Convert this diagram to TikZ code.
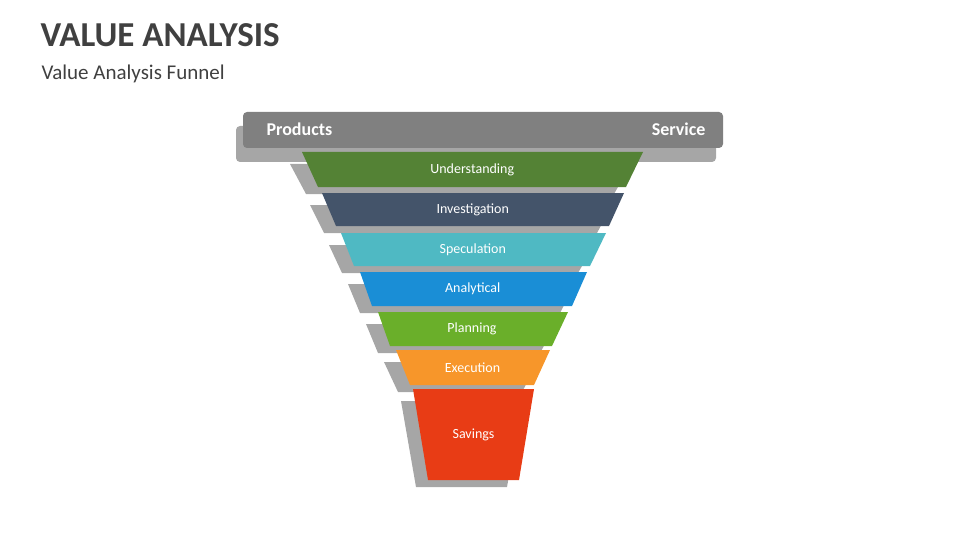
\documentclass[tikz,border=0pt]{standalone}
\usepackage{fontspec}
\setmainfont{Carlito}
\usetikzlibrary{calc}
\definecolor{titlegray}{HTML}{404040}
\definecolor{shadowgray}{HTML}{A6A6A6}
\definecolor{headgray}{HTML}{808080}
\begin{document}
\begin{tikzpicture}[x=1pt,y=-1pt]
    \tikzset{label/.style = {text=white,font=\fontsize{14}{14}\selectfont}}
    \tikzset{shadow/.style = {fill=shadowgray}}
    \useasboundingbox (0,0) rectangle (960,540);
    % title
    \node[anchor=west,text=titlegray,font=\bfseries\fontsize{35}{35}\selectfont] (title) at (37,35) {VALUE ANALYSIS};
    \node[anchor=west,text=titlegray,font=\fontsize{21}{21}\selectfont] (subtitle) at (38,74) {Value Analysis Funnel};
    % header bar
    \fill[shadow,rounded corners=4] (236,126) rectangle (716,162);
    \fill[headgray,rounded corners=4] (243,112) rectangle (723,148);
    \node[anchor=west,text=white,font=\bfseries\fontsize{18}{18}\selectfont] (prod) at (263,129) {Products};
    \node[anchor=east,text=white,font=\bfseries\fontsize{18}{18}\selectfont] (serv) at (709,129) {Service};
    % bands
    \foreach \name/\ty/\by/\tl/\tr/\bl/\br/\col/\txt in {
        und/152/187/302/643/318/626/548235/Understanding,
        inv/193/226/322/624/336/609/44546A/Investigation,
        spe/233/266/341/606/354/590/4FB9C3/Speculation,
        ana/272/306/360/587/372/572/1A8ED6/Analytical,
        pla/312/346/378/568/390/552/6AAF2A/Planning,
        exe/350/385/396/550/410/534/F7962A/Execution,
        sav/389/480/413/534/428/519/E83C15/Savings}{
        \definecolor{bandcol}{HTML}{\col}
        \fill[shadow] (\tl-12,\ty+12) -- (\tr-12,\ty+12) -- (\br-12,\by+7) -- (\bl-12,\by+7) -- cycle;
        \fill[bandcol] (\tl,\ty) -- (\tr,\ty) -- (\br,\by) -- (\bl,\by) -- cycle;
        \node[label] (\name) at ({(\tl+\tr+\bl+\br)/4},{(\ty+\by)/2}) {\txt};
    }
\end{tikzpicture}
\end{document}
